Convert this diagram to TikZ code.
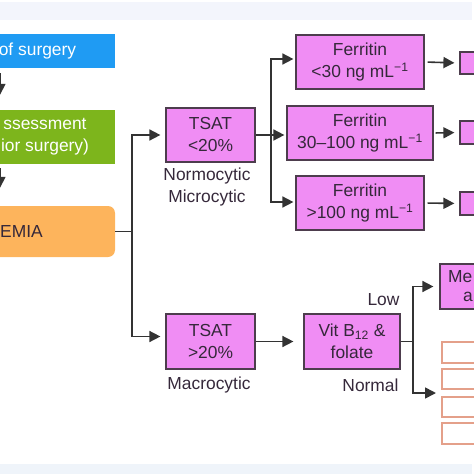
\documentclass[tikz,border=0pt]{standalone}
\usepackage{fontspec}
\setmainfont{Liberation Sans}
\usetikzlibrary{arrows.meta,calc}
\definecolor{bandtop}{HTML}{F3F5FC}
\definecolor{bandbot}{HTML}{EFF4FA}
\definecolor{cblue}{HTML}{1F9BF3}
\definecolor{cgreen}{HTML}{7DB51C}
\definecolor{corange}{HTML}{FDB45C}
\definecolor{cpink}{HTML}{F08DF4}
\definecolor{cpborder}{HTML}{4D3D4D}
\definecolor{carrow}{HTML}{333333}
\definecolor{ctext}{HTML}{35283A}
\definecolor{csalmon}{HTML}{E4A08A}
\newcommand\myfs{\fontsize{17.4}{22}\selectfont}
\begin{document}
\begin{tikzpicture}[x=1pt,y=-1pt,
  pbox/.style={draw=cpborder, fill=cpink, line width=1.2pt, inner sep=0pt, align=center, font=\myfs, text=ctext},
  cbox/.style={inner sep=0pt},
  txt/.style={font=\myfs, text=ctext, inner sep=0pt, align=center},
  wtxt/.style={font=\myfs, text=white, inner sep=0pt, align=center},
  ebox/.style={draw=csalmon, fill=white, line width=1.1pt, inner sep=0pt},
  ln/.style={draw=carrow, line width=1.6pt},
  arr/.style={draw=carrow, line width=1.6pt, -{Triangle[length=11pt,width=11pt]}}]
\useasboundingbox (0,0) rectangle (474,474);
\clip (0,0) rectangle (474,474);
% bands
\fill[bandtop] (0,2) rectangle (472,20);
\fill[bandbot] (0,464) rectangle (472,474);
% left column
\node[cbox, fill=cblue, minimum width=230pt, minimum height=34pt] (blue) at (0,51) {};
\node[wtxt] (bluet) at (37.5,51) {of surgery};
\node[cbox, fill=cgreen, minimum width=230pt, minimum height=54pt] (green) at (0,137) {};
\node[wtxt] (greent) at (45,137) {ssessment\\ior surgery)};
\node[cbox, fill=corange, rounded corners=7pt, minimum width=230pt, minimum height=51pt] (orange) at (0,231.5) {};
\node[txt, anchor=west] (oranget) at (0,231.5) {EMIA};
\draw[arr, shorten <=5pt, shorten >=15pt] (blue.south) -- (green.north);
\draw[arr, shorten <=4pt, shorten >=18pt] (green.south) -- (orange.north);
% TSAT boxes
\node[pbox, minimum width=89pt, minimum height=54pt] (tsat1) at (210.5,135) {TSAT\\<20\%};
\node[txt] (normo) at (207,187) {Normocytic\\Microcytic};
\node[pbox, minimum width=89pt, minimum height=55pt] (tsat2) at (210.5,341.5) {TSAT\\>20\%};
\node[txt] (macro) at (209,385) {Macrocytic};
\coordinate (j1) at (132,231.5);
\draw[ln] (orange.east) -- (j1);
\draw[arr, shorten >=5pt] (j1) |- (tsat1.west);
\draw[arr, shorten >=5pt] (j1) |- ([yshift=5pt]tsat2.west);
% Ferritin boxes
\node[pbox, minimum width=128pt, minimum height=54pt] (f1) at (360,62) {Ferritin\\<30 ng mL\textsuperscript{−1}};
\node[pbox, minimum width=146pt, minimum height=54pt] (f2) at (360,133) {Ferritin\\30–100 ng mL\textsuperscript{−1}};
\node[pbox, minimum width=128pt, minimum height=54pt] (f3) at (360,203) {Ferritin\\>100 ng mL\textsuperscript{−1}};
\coordinate (j2) at (271,135);
\draw[ln] (tsat1.east) -- (j2);
\draw[arr, shorten >=2pt] (j2) |- ([yshift=3pt]f1.west);
\draw[arr, shorten >=2pt] (j2) -- (f2.west |- j2);
\draw[arr, shorten >=2pt] (j2) |- ([yshift=1pt]f3.west);
% right boxes
\node[pbox, minimum width=60pt, minimum height=22pt] (r1) at (490,63) {};
\node[pbox, minimum width=60pt, minimum height=23pt] (r2) at (490,132.5) {};
\node[pbox, minimum width=60pt, minimum height=23pt] (r3) at (490,203.5) {};
\draw[arr, shorten <=3pt, shorten >=5pt] (f1.east) -- (r1.west);
\draw[arr, shorten <=2pt, shorten >=5pt] (f2.east) -- (r2.west);
\draw[arr, shorten <=3pt, shorten >=5pt] (f3.east) -- (r3.west);
% Vit B12
\node[pbox, minimum width=96pt, minimum height=55pt] (vit) at (352,341.5) {Vit B\textsubscript{12} \&\\folate};
\draw[arr, shorten >=10pt] (tsat2.east) -- (vit.west);
\node[txt] (low) at (383.5,300) {Low};
\node[txt] (normal) at (370.5,385) {Normal};
\coordinate (j3) at (413,341.5);
\draw[ln] (vit.east) -- (j3);
\node[pbox, minimum width=100pt, minimum height=45pt] (me) at (490,286.5) {};
\node[txt, anchor=west] (met) at (448,277) {Me};
\node[txt, anchor=west] (mea) at (463,297) {a};
\coordinate (n1) at (442,393);
\draw[arr, shorten >=6pt] (j3) |- (me.west);
\draw[arr, shorten >=6pt] (j3) |- (n1);
% empty boxes
\node[ebox, minimum width=80pt, minimum height=21pt] (e1) at (482,352.5) {};
\node[ebox, minimum width=80pt, minimum height=20pt] (e2) at (482,379) {};
\node[ebox, minimum width=80pt, minimum height=20pt] (e3) at (482,407) {};
\node[ebox, minimum width=80pt, minimum height=21pt] (e4) at (482,433.5) {};
\end{tikzpicture}
\end{document}
